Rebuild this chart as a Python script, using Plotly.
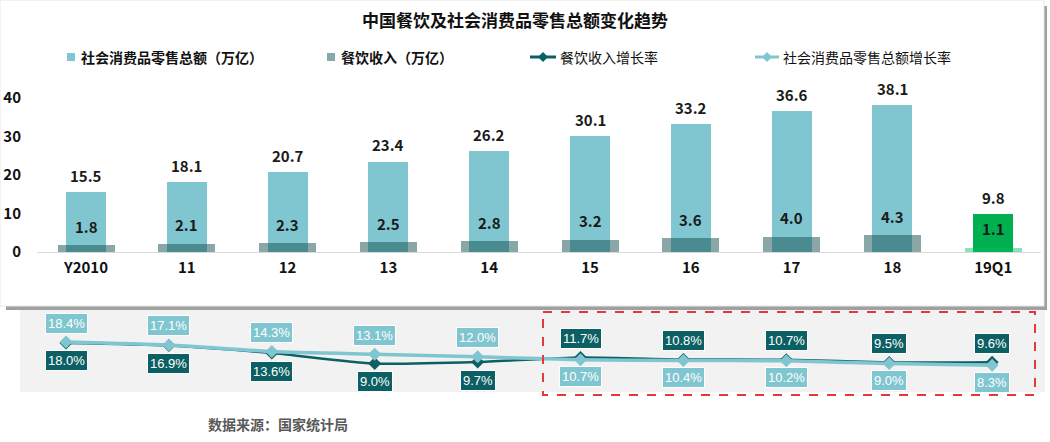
import plotly.graph_objects as go

W, H = 1050, 442

# ---------------- data ----------------
categories = ["Y2010", "11", "12", "13", "14", "15", "16", "17", "18", "19Q1"]
retail_total = [15.5, 18.1, 20.7, 23.4, 26.2, 30.1, 33.2, 36.6, 38.1, 9.8]      # 社会消费品零售总额（万亿）
catering_income = [1.8, 2.1, 2.3, 2.5, 2.8, 3.2, 3.6, 4.0, 4.3, 1.1]           # 餐饮收入（万亿）
catering_growth = [18.0, 16.9, 13.6, 9.0, 9.7, 11.7, 10.8, 10.7, 9.5, 9.6]     # 餐饮收入增长率 %
retail_growth = [18.4, 17.1, 14.3, 13.1, 12.0, 10.7, 10.4, 10.2, 9.0, 8.3]     # 社会消费品零售总额增长率 %
y_ticks = [0, 10, 20, 30, 40]

title_text = "中国餐饮及社会消费品零售总额变化趋势"
legend_names = ["社会消费品零售总额（万亿）", "餐饮收入（万亿）", "餐饮收入增长率", "社会消费品零售总额增长率"]
source_text = "数据来源：国家统计局"

# ---------------- styles ----------------
CJK = "Noto Sans CJK SC"
ARIAL = "Liberation Sans, Arial"
C_RETAIL = "#7FC6D0"
C_GREEN = "#00B050"
C_CAT_BAR = "rgba(20,80,78,0.5)"
C_CAT_BAR_Q = "rgba(0,190,95,0.45)"
C_DARK = "#0C5F63"
C_LIGHT = "#7FC6D0"

def fx(p):
    return p / W

def fy(p):
    return 1 - p / H

n = len(categories)
xs = list(range(n))

# top axis geometry (pixels)
X0, DX = 86, 100.8
L, R = 37, 1041
YB, PXU, YT = 252, 3.85, 75
# bottom axis geometry
BX0, BDX = 66, 102.9
BL, BR = 20, 1045
BT, BB = 300, 392
BREF, BPX = 342, 2.3  # value 18.4 sits at y=342, 2.3 px per unit

fig = go.Figure()

fig.add_trace(go.Bar(
    x=xs, y=retail_total, width=40 / DX,
    marker=dict(color=[C_RETAIL] * (n - 1) + [C_GREEN], line=dict(width=0)),
    name=legend_names[0], xaxis="x", yaxis="y", showlegend=False, hoverinfo="skip"))
fig.add_trace(go.Bar(
    x=xs, y=catering_income, width=57 / DX,
    marker=dict(color=[C_CAT_BAR] * (n - 1) + [C_CAT_BAR_Q], line=dict(width=0)),
    name=legend_names[1], xaxis="x", yaxis="y", showlegend=False, hoverinfo="skip"))

fig.add_trace(go.Scatter(
    x=xs, y=catering_growth, mode="lines+markers",
    line=dict(color=C_DARK, width=2.5, shape="spline", smoothing=0.6),
    marker=dict(symbol="diamond", size=10, color=C_DARK),
    name=legend_names[2], xaxis="x2", yaxis="y2", showlegend=False, hoverinfo="skip"))
fig.add_trace(go.Scatter(
    x=xs, y=retail_growth, mode="lines+markers",
    line=dict(color=C_LIGHT, width=3.5, shape="spline", smoothing=0.6),
    marker=dict(symbol="diamond", size=10, color=C_LIGHT),
    name=legend_names[3], xaxis="x2", yaxis="y2", showlegend=False, hoverinfo="skip"))

ann = []
# bar value labels
for i in xs:
    ann.append(dict(x=i, y=retail_total[i], xref="x", yref="y", text=f"<b>{retail_total[i]:.1f}</b>",
                    showarrow=False, yanchor="middle", yshift=17,
                    font=dict(family=CJK, size=15, color="#1a1a1a")))
    ann.append(dict(x=i, y=catering_income[i], xref="x", yref="y", text=f"<b>{catering_income[i]:.1f}</b>",
                    showarrow=False, yanchor="middle", yshift=19,
                    font=dict(family=CJK, size=15, color="#1a1a1a")))

# growth-rate labels
for i in xs:
    dark_above = i >= 5
    ann.append(dict(x=i, y=catering_growth[i], xref="x2", yref="y2", text=f"{catering_growth[i]:.1f}%",
                    showarrow=False, yanchor="middle", yshift=19 if dark_above else -18,
                    bgcolor=C_DARK, bordercolor="white", borderwidth=1, borderpad=2,
                    font=dict(family=ARIAL, size=13, color="white")))
    ann.append(dict(x=i, y=retail_growth[i], xref="x2", yref="y2", text=f"{retail_growth[i]:.1f}%",
                    showarrow=False, yanchor="middle", yshift=-17 if dark_above else 19,
                    bgcolor=C_LIGHT, bordercolor="white", borderwidth=1, borderpad=2,
                    font=dict(family=ARIAL, size=13, color="white")))

# title
ann.append(dict(x=fx(515), y=fy(20), xref="paper", yref="paper", text=f"<b>{title_text}</b>",
                showarrow=False, xanchor="center", yanchor="middle",
                font=dict(family=CJK, size=17, color="#111111")))
# legend texts
leg_y = 57
for xpos, txt, bold in [(79, legend_names[0], True), (339, legend_names[1], True),
                        (558, legend_names[2], False), (781, legend_names[3], False)]:
    ann.append(dict(x=fx(xpos), y=fy(leg_y), xref="paper", yref="paper",
                    text=f"<b>{txt}</b>" if bold else txt, showarrow=False,
                    xanchor="left", yanchor="middle",
                    font=dict(family=CJK, size=14, color="#111111")))
# source
ann.append(dict(x=fx(278), y=fy(424), xref="paper", yref="paper", text=f"<b>{source_text}</b>",
                showarrow=False, xanchor="center", yanchor="middle",
                font=dict(family=CJK, size=14, color="#595959")))

shapes = [
    # grey panel of growth chart
    dict(type="rect", xref="paper", yref="paper", x0=fx(20), x1=fx(1045), y0=fy(300), y1=fy(392),
         fillcolor="#F2F2F2", line=dict(width=0), layer="below"),
    # shadow of top panel
    dict(type="rect", xref="paper", yref="paper", x0=fx(6), x1=fx(1047), y0=fy(6), y1=fy(310),
         fillcolor="#A0A0A0", line=dict(width=0), layer="below"),
    dict(type="rect", xref="paper", yref="paper", x0=fx(0), x1=fx(1044), y0=fy(0), y1=fy(306),
         fillcolor="white", line=dict(color="#E6E6E6", width=1), layer="below"),
    # red dashed highlight
    dict(type="rect", xref="paper", yref="paper", x0=fx(543), x1=fx(1035), y0=fy(312), y1=fy(395),
         fillcolor="rgba(0,0,0,0)", line=dict(color="#E03A3A", width=2, dash="dash"), layer="above"),
    # legend markers
    dict(type="rect", xref="paper", yref="paper", x0=fx(67), x1=fx(75), y0=fy(53), y1=fy(61),
         fillcolor=C_RETAIL, line=dict(width=0)),
    dict(type="rect", xref="paper", yref="paper", x0=fx(327), x1=fx(335), y0=fy(53), y1=fy(61),
         fillcolor="#86A9A9", line=dict(width=0)),
    dict(type="line", xref="paper", yref="paper", x0=fx(530), x1=fx(556), y0=fy(57), y1=fy(57),
         line=dict(color=C_DARK, width=3)),
    dict(type="line", xref="paper", yref="paper", x0=fx(755), x1=fx(779), y0=fy(57), y1=fy(57),
         line=dict(color=C_LIGHT, width=3)),
    dict(type="path", xref="paper", yref="paper",
         path=f"M {fx(543)},{fy(52)} L {fx(548)},{fy(57)} L {fx(543)},{fy(62)} L {fx(538)},{fy(57)} Z",
         fillcolor=C_DARK, line=dict(width=0)),
    dict(type="path", xref="paper", yref="paper",
         path=f"M {fx(767)},{fy(52)} L {fx(772)},{fy(57)} L {fx(767)},{fy(62)} L {fx(762)},{fy(57)} Z",
         fillcolor=C_LIGHT, line=dict(width=0)),
]

fig.update_layout(
    width=W, height=H, margin=dict(l=0, r=0, t=0, b=0, autoexpand=False),
    paper_bgcolor="white", plot_bgcolor="rgba(0,0,0,0)",
    barmode="overlay", bargap=0, showlegend=False,
    annotations=ann, shapes=shapes,
    xaxis=dict(domain=[fx(L), fx(R)], range=[(L - X0) / DX, (R - X0) / DX],
               tickvals=xs, ticktext=[f"<b>{c}</b>" for c in categories],
               tickfont=dict(family=CJK, size=15, color="#111111"), ticklabelstandoff=2,
               showline=True, linecolor="#D9D9D9", linewidth=1, showgrid=False, zeroline=False,
               ticks="", fixedrange=True, anchor="y", automargin=False),
    yaxis=dict(domain=[fy(YB), fy(YT)], range=[0, (YB - YT) / PXU],
               tickvals=y_ticks, ticktext=[f"<b>{t}</b>" for t in y_ticks],
               tickfont=dict(family=CJK, size=15, color="#111111"), ticklabelstandoff=15,
               showgrid=False, zeroline=False, showline=False, ticks="", anchor="x", automargin=False),
    xaxis2=dict(domain=[fx(BL), fx(BR)], range=[(BL - BX0) / BDX, (BR - BX0) / BDX],
                visible=False, anchor="y2", automargin=False),
    yaxis2=dict(domain=[fy(BB), fy(BT)],
                range=[18.4 - (BB - BREF) / BPX, 18.4 + (BREF - BT) / BPX],
                visible=False, anchor="x2", automargin=False),
)

fig.write_html("out.html")
